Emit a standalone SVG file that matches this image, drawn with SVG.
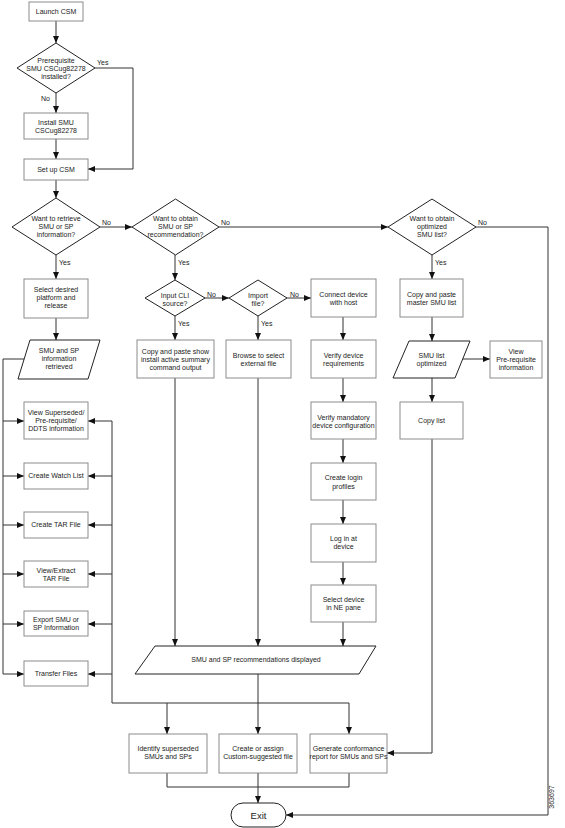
<svg xmlns="http://www.w3.org/2000/svg" width="565" height="828" viewBox="0 0 565 828">
<style>
text{font-family:"Liberation Sans",Arial,sans-serif;font-size:7px;fill:#222;stroke:none;text-anchor:middle}
.lbl{text-anchor:start}
.box{fill:#fff;stroke:#8c8c8c;stroke-width:1}
.dia{fill:#fff;stroke:#222;stroke-width:1}
.con{fill:none;stroke:#333;stroke-width:1}
</style>
<defs>
<marker id="ah" markerUnits="userSpaceOnUse" markerWidth="7" markerHeight="6" refX="7" refY="3" orient="auto">
<path d="M0,0 L7,3 L0,6 z" fill="#111"/>
</marker>
</defs>
<rect width="565" height="828" fill="#fff"/>

<g id="connectors">
<path class="con" d="M56,21 V43" marker-end="url(#ah)"/>
<path class="con" d="M56,93 V113" marker-end="url(#ah)"/>
<path class="con" d="M95,68 H133 V169 H88" marker-end="url(#ah)"/>
<path class="con" d="M56,139 V159" marker-end="url(#ah)"/>
<path class="con" d="M56,180 V198" marker-end="url(#ah)"/>
<path class="con" d="M100,227 H132" marker-end="url(#ah)"/>
<path class="con" d="M56,255 V279" marker-end="url(#ah)"/>
<path class="con" d="M56,318 V340" marker-end="url(#ah)"/>
<path class="con" d="M219,227 H388" marker-end="url(#ah)"/>
<path class="con" d="M175,255 V280" marker-end="url(#ah)"/>
<path class="con" d="M205,298 H229" marker-end="url(#ah)"/>
<path class="con" d="M287,298 H311" marker-end="url(#ah)"/>
<path class="con" d="M175,316 V340" marker-end="url(#ah)"/>
<path class="con" d="M258,316 V340" marker-end="url(#ah)"/>
<path class="con" d="M343,317 V340" marker-end="url(#ah)"/>
<path class="con" d="M343,378 V402" marker-end="url(#ah)"/>
<path class="con" d="M343,439 V463" marker-end="url(#ah)"/>
<path class="con" d="M343,500 V524" marker-end="url(#ah)"/>
<path class="con" d="M343,562 V585" marker-end="url(#ah)"/>
<path class="con" d="M175,378 V646" marker-end="url(#ah)"/>
<path class="con" d="M258,378 V646" marker-end="url(#ah)"/>
<path class="con" d="M343,622 V646" marker-end="url(#ah)"/>
<path class="con" d="M258,674 V703"/>
<path class="con" d="M112,421 V703 H349"/>
<path class="con" d="M167,703 V734" marker-end="url(#ah)"/>
<path class="con" d="M258,703 V734" marker-end="url(#ah)"/>
<path class="con" d="M349,703 V734" marker-end="url(#ah)"/>
<path class="con" d="M112,421 H88" marker-end="url(#ah)"/>
<path class="con" d="M112,476 H88" marker-end="url(#ah)"/>
<path class="con" d="M112,525 H88" marker-end="url(#ah)"/>
<path class="con" d="M112,574 H88" marker-end="url(#ah)"/>
<path class="con" d="M112,624 H88" marker-end="url(#ah)"/>
<path class="con" d="M112,674 H88" marker-end="url(#ah)"/>
<path class="con" d="M24,359 H3 V674"/>
<path class="con" d="M3,421 H24" marker-end="url(#ah)"/>
<path class="con" d="M3,476 H24" marker-end="url(#ah)"/>
<path class="con" d="M3,525 H24" marker-end="url(#ah)"/>
<path class="con" d="M3,574 H24" marker-end="url(#ah)"/>
<path class="con" d="M3,624 H24" marker-end="url(#ah)"/>
<path class="con" d="M3,674 H24" marker-end="url(#ah)"/>
<path class="con" d="M476,227 H548 V815 H286" marker-end="url(#ah)"/>
<path class="con" d="M432,255 V279" marker-end="url(#ah)"/>
<path class="con" d="M432,317 V341" marker-end="url(#ah)"/>
<path class="con" d="M462,359 H490" marker-end="url(#ah)"/>
<path class="con" d="M432,378 V402" marker-end="url(#ah)"/>
<path class="con" d="M432,439 V753 H387" marker-end="url(#ah)"/>
<path class="con" d="M167,773 V787 H349 V773"/>
<path class="con" d="M258,773 V803" marker-end="url(#ah)"/>
<text class="lbl" x="97" y="65">Yes</text>
<text class="lbl" x="41" y="101">No</text>
<text class="lbl" x="102" y="225">No</text>
<text class="lbl" x="59" y="265">Yes</text>
<text class="lbl" x="221" y="225">No</text>
<text class="lbl" x="178" y="265">Yes</text>
<text class="lbl" x="207" y="297">No</text>
<text class="lbl" x="290" y="297">No</text>
<text class="lbl" x="178" y="326">Yes</text>
<text class="lbl" x="261" y="326">Yes</text>
<text class="lbl" x="478" y="225">No</text>
<text class="lbl" x="435" y="265">Yes</text>
</g>

<g id="launch"><rect class="box" x="29" y="2" width="54" height="19"/><text x="56" y="14">Launch CSM</text></g>
<g id="prereq"><polygon class="dia" points="56,43 95,68 56,93 17,68"/><text x="56" y="63">Prerequisite</text><text x="56" y="71">SMU CSCug82278</text><text x="56" y="79">installed?</text></g>
<g id="install"><rect class="box" x="24" y="113" width="64" height="26"/><text x="56" y="125">Install SMU</text><text x="56" y="133">CSCug82278</text></g>
<g id="setup"><rect class="box" x="24" y="159" width="64" height="21"/><text x="56" y="172">Set up CSM</text></g>
<g id="retrieve"><polygon class="dia" points="56,198 100,227 56,255 12,227"/><text x="56" y="221">Want to retrieve</text><text x="56" y="229">SMU or SP</text><text x="56" y="237">information?</text></g>
<g id="select"><rect class="box" x="24" y="279" width="64" height="39"/><text x="56" y="292">Select desired</text><text x="56" y="300">platform and</text><text x="56" y="308">release</text></g>
<g id="retrieved"><polygon class="dia" points="30,340 100,340 88,379 18,379"/><text x="59" y="353">SMU and SP</text><text x="59" y="361">information</text><text x="59" y="369">retrieved</text></g>
<g id="viewsup"><rect class="box" x="24" y="402" width="64" height="37"/><text x="56" y="415">View Superseded/</text><text x="56" y="423">Pre-requisite/</text><text x="56" y="431">DDTS information</text></g>
<g id="watch"><rect class="box" x="24" y="463" width="64" height="26"/><text x="56" y="478">Create Watch List</text></g>
<g id="tar"><rect class="box" x="24" y="512" width="64" height="26"/><text x="56" y="527">Create TAR File</text></g>
<g id="extract"><rect class="box" x="24" y="561" width="64" height="26"/><text x="56" y="573">View/Extract</text><text x="56" y="581">TAR File</text></g>
<g id="export"><rect class="box" x="24" y="611" width="64" height="25"/><text x="56" y="622">Export SMU or</text><text x="56" y="630">SP Information</text></g>
<g id="transfer"><rect class="box" x="24" y="661" width="64" height="25"/><text x="56" y="676">Transfer Files</text></g>

<g id="obtain"><polygon class="dia" points="175.5,199 219,227 175.5,255 132,227"/><text x="175.5" y="221">Want to obtain</text><text x="175.5" y="229">SMU or SP</text><text x="175.5" y="237">recommendation?</text></g>
<g id="inputcli"><polygon class="dia" points="175,280 205,298 175,316 145,298"/><text x="175" y="298">Input CLI</text><text x="175" y="306">source?</text></g>
<g id="import"><polygon class="dia" points="258,280 287,298 258,316 229,298"/><text x="258" y="298">Import</text><text x="258" y="306">file?</text></g>
<g id="connect"><rect class="box" x="311" y="279" width="65" height="38"/><text x="343.5" y="297">Connect device</text><text x="343.5" y="305">with host</text></g>
<g id="copyshow"><rect class="box" x="137" y="340" width="77" height="38"/><text x="175.5" y="354">Copy and paste show</text><text x="175.5" y="362">install active summary</text><text x="175.5" y="370">command output</text></g>
<g id="browse"><rect class="box" x="226" y="340" width="65" height="38"/><text x="258.5" y="358">Browse to select</text><text x="258.5" y="366">external file</text></g>
<g id="verifyreq"><rect class="box" x="311" y="340" width="65" height="38"/><text x="343.5" y="358">Verify device</text><text x="343.5" y="366">requirements</text></g>
<g id="verifycfg"><rect class="box" x="311" y="402" width="65" height="37"/><text x="343.5" y="420">Verify mandatory</text><text x="343.5" y="428">device configuration</text></g>
<g id="login"><rect class="box" x="311" y="463" width="65" height="37"/><text x="343.5" y="480">Create login</text><text x="343.5" y="489">profiles</text></g>
<g id="logdev"><rect class="box" x="311" y="524" width="65" height="38"/><text x="343.5" y="541">Log in at</text><text x="343.5" y="549">device</text></g>
<g id="selectdev"><rect class="box" x="311" y="585" width="65" height="37"/><text x="343.5" y="602">Select device</text><text x="343.5" y="610">in NE pane</text></g>
<g id="recs"><polygon class="dia" points="155,646 376,646 359,674 135,674"/><text x="256" y="662">SMU and SP recommendations displayed</text></g>
<g id="identify"><rect class="box" x="129" y="734" width="78" height="39"/><text x="168" y="751">Identify superseded</text><text x="168" y="759">SMUs and SPs</text></g>
<g id="custom"><rect class="box" x="219" y="734" width="78" height="39"/><text x="258" y="751">Create or assign</text><text x="258" y="759">Custom-suggested file</text></g>
<g id="generate"><rect class="box" x="310" y="734" width="77" height="39"/><text x="348.5" y="751">Generate conformance</text><text x="348.5" y="759">report for SMUs and SPs</text></g>
<g id="exit"><rect class="dia" x="231" y="803" width="55" height="24" rx="12" ry="12"/><text x="258.5" y="819" style="font-size:9.5px">Exit</text></g>

<g id="optimized"><polygon class="dia" points="432,199 476,227 432,255 388,227"/><text x="432" y="221">Want to obtain</text><text x="432" y="229">optimized</text><text x="432" y="237">SMU list?</text></g>
<g id="copymaster"><rect class="box" x="400" y="279" width="63" height="38"/><text x="431.5" y="297">Copy and paste</text><text x="431.5" y="305">master SMU list</text></g>
<g id="smulist"><polygon class="dia" points="409,341 470,341 455,378 393,378"/><text x="431.5" y="358">SMU list</text><text x="431.5" y="366">optimized</text></g>
<g id="viewpre"><rect class="box" x="490" y="341" width="52" height="37"/><text x="516" y="354">View</text><text x="516" y="362">Pre-requisite</text><text x="516" y="370">information</text></g>
<g id="copylist"><rect class="box" x="400" y="402" width="63" height="37"/><text x="431.5" y="423">Copy list</text></g>

<text x="554" y="797" transform="rotate(-90 554 797)">363697</text>
</svg>
